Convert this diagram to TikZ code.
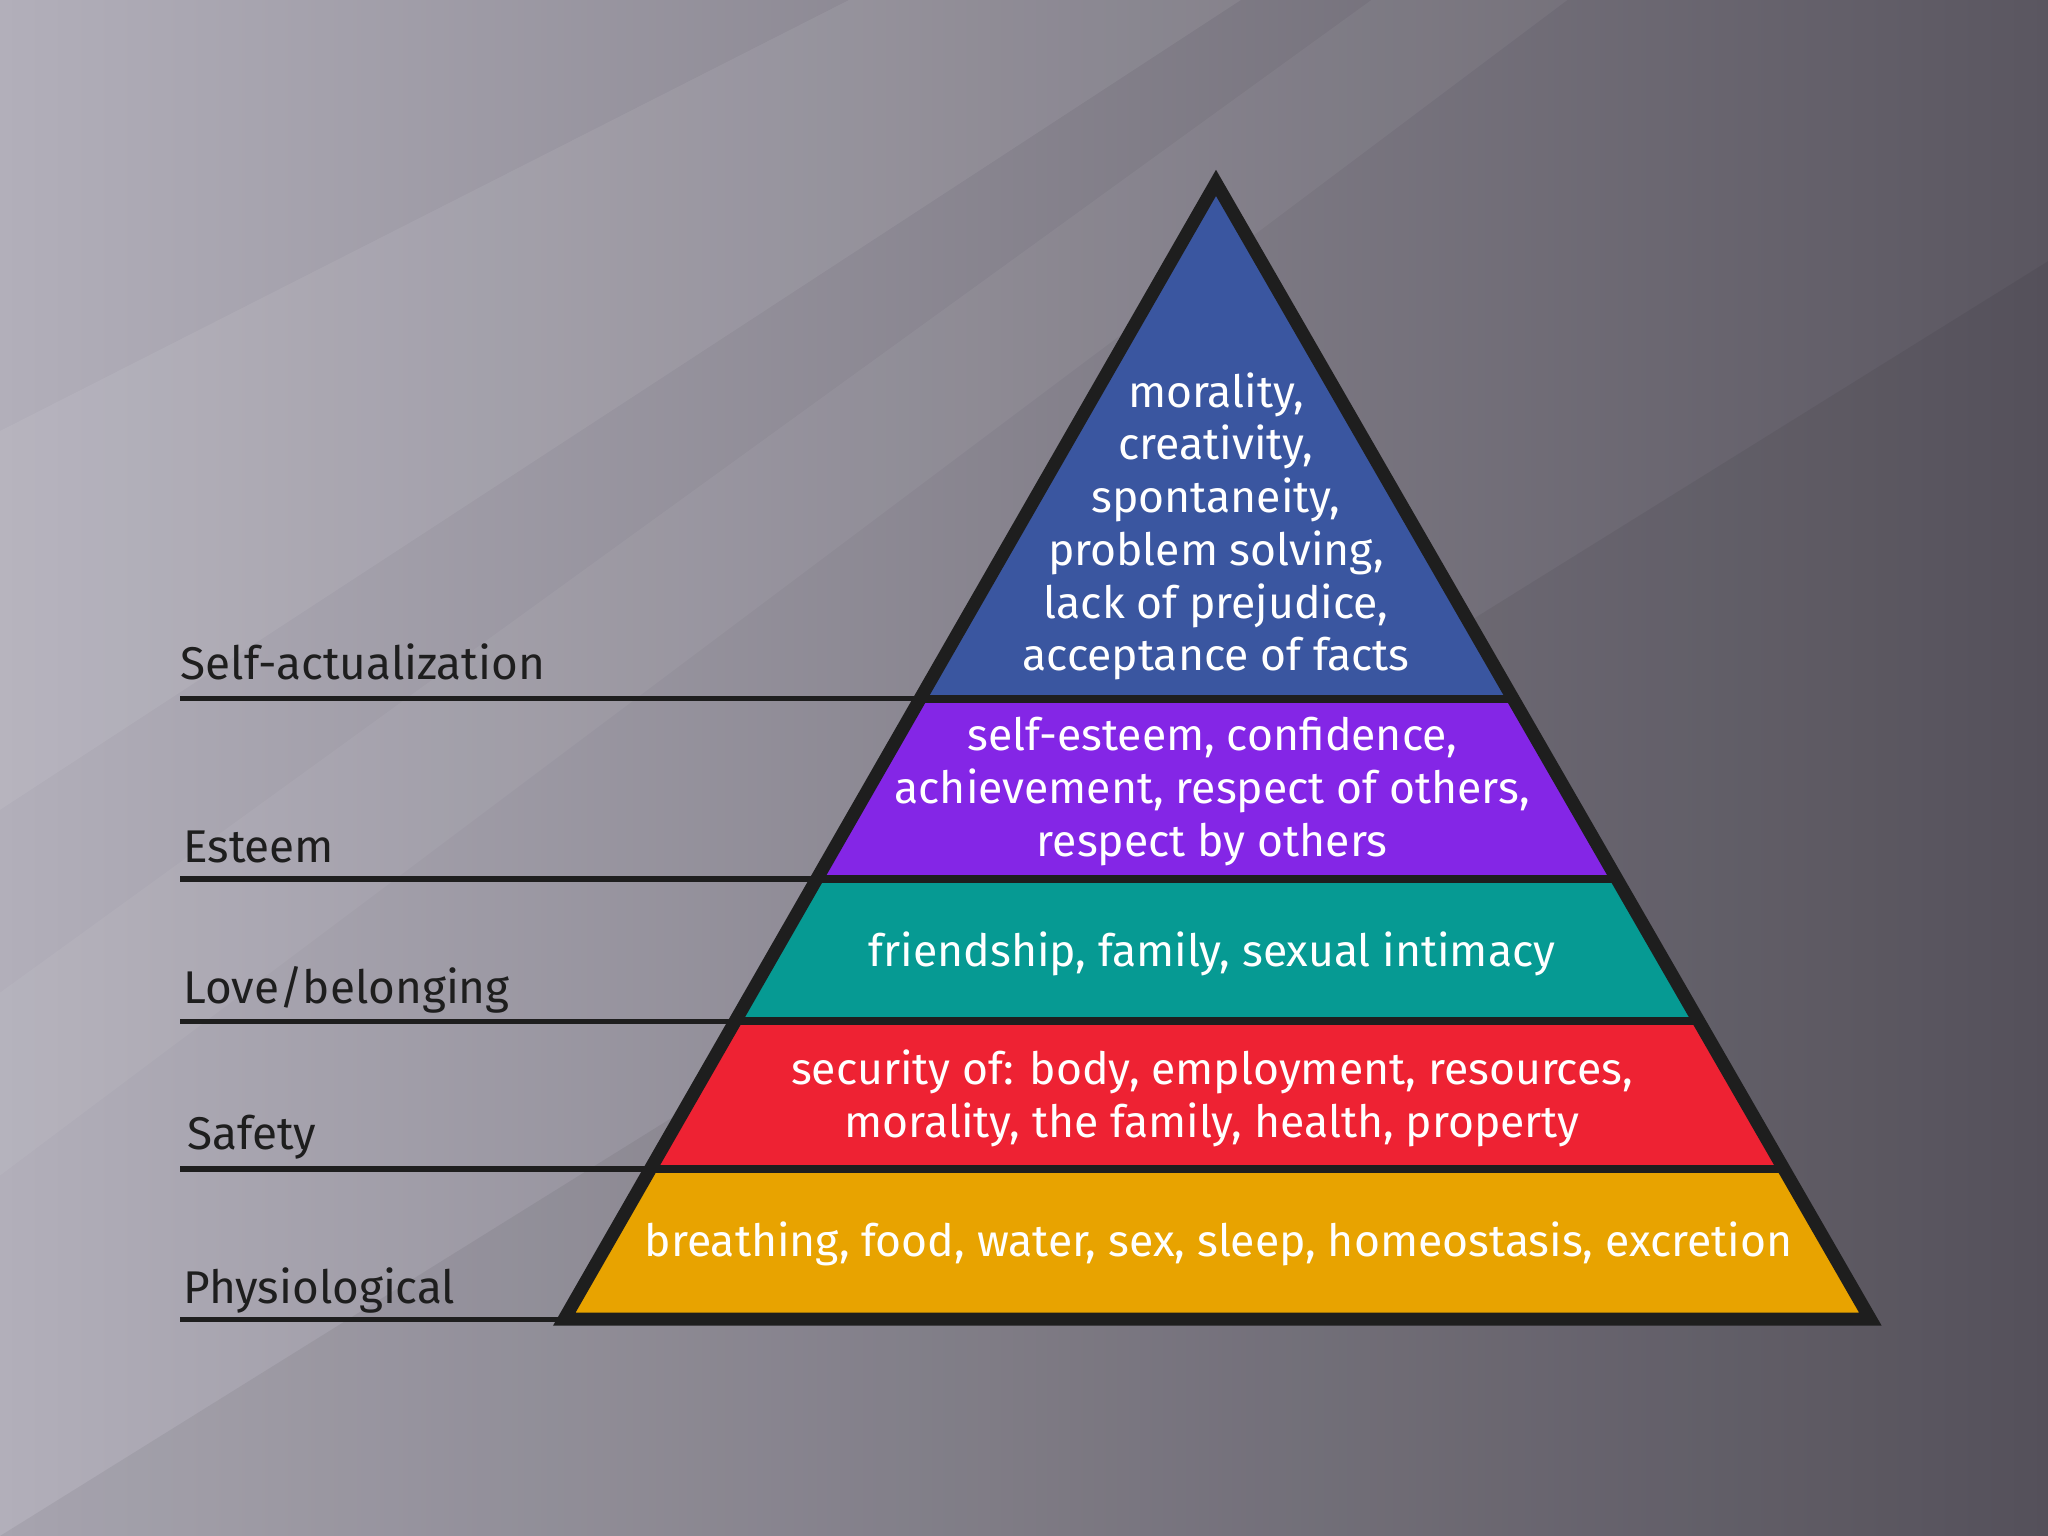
\documentclass[tikz,border=0pt]{standalone}
\usepackage{fontspec}
\setmainfont{Fira Sans}
\definecolor{bgdark}{HTML}{5A5660}
\definecolor{bglight}{HTML}{B2AFBA}
\definecolor{cblue}{HTML}{3A56A0}
\definecolor{cpurple}{HTML}{8426E6}
\definecolor{cteal}{HTML}{069A93}
\definecolor{cred}{HTML}{EE2233}
\definecolor{corange}{HTML}{E8A300}
\definecolor{ink}{HTML}{1E1E1E}
\begin{document}
\begin{tikzpicture}[x=0.02cm,y=-0.02cm,
  band/.style={draw=ink,line width=6*0.02cm,line join=round},
  txt/.style={text=white,font=\fontsize{19.4}{23}\selectfont,align=center,inner sep=0pt},
  lab/.style={text=ink,font=\fontsize{20}{22}\selectfont,anchor=base west,inner sep=0pt},
  lev/.style={draw=ink,line width=4*0.02cm}]
\useasboundingbox (0,0) rectangle (1568,1176);
\shade[shading angle=60,left color=bglight,right color=bgdark] (0,0) rectangle (1568,1176);
\fill[white,opacity=0.07] (0,330) -- (650,0) -- (950,0) -- (0,620) -- cycle;
\fill[white,opacity=0.05] (0,760) -- (1050,0) -- (1200,0) -- (0,900) -- cycle;
\fill[black,opacity=0.06] (0,1176) -- (1568,200) -- (1568,1176) -- cycle;
% pyramid points
\coordinate (A) at (931,140);
\coordinate (l1) at (704.4,535); \coordinate (r1) at (1158.5,535);
\coordinate (l2) at (625.3,673); \coordinate (r2) at (1237.9,673);
\coordinate (l3) at (562.8,782); \coordinate (r3) at (1300.7,782);
\coordinate (l4) at (498,895); \coordinate (r4) at (1365.8,895);
\coordinate (l5) at (432,1010); \coordinate (r5) at (1432,1010);
\fill[cblue] (A) -- (r1) -- (l1) -- cycle;
\fill[cpurple] (l1) -- (r1) -- (r2) -- (l2) -- cycle;
\fill[cteal] (l2) -- (r2) -- (r3) -- (l3) -- cycle;
\fill[cred] (l3) -- (r3) -- (r4) -- (l4) -- cycle;
\fill[corange] (l4) -- (r4) -- (r5) -- (l5) -- cycle;
\draw[band] (l1) -- (r1) (l2) -- (r2) (l3) -- (r3) (l4) -- (r4);
\draw[draw=ink,line width=10*0.02cm,line join=miter] (A) -- (r5) -- (l5) -- cycle;
% level lines
\coordinate (s1) at (138,535); \coordinate (s2) at (138,673);
\coordinate (s3) at (138,782); \coordinate (s4) at (138,895);
\coordinate (s5) at (138,1010);
\draw[lev] (s1) -- (l1); \draw[lev] (s2) -- (l2); \draw[lev] (s3) -- (l3);
\draw[lev] (s4) -- (l4); \draw[lev] (s5) -- (l5);
\node[lab] (L1) at (138,520) {Self-actualization};
\node[lab] (L2) at (140,660) {Esteem};
\node[lab] (L3) at (140,768) {Love/belonging};
\node[lab] (L4) at (143,880) {Safety};
\node[lab] (L5) at (140,998) {Physiological};
\node[txt] (T1) at (931,403) {morality,\\creativity,\\spontaneity,\\problem solving,\\lack of prejudice,\\acceptance of facts};
\node[txt] (T2) at (928,606) {self-esteem, confidence,\\achievement, respect of others,\\respect by others};
\node[txt] (T3) at (928,730) {friendship, family, sexual intimacy};
\node[txt] (T4) at (928,841) {security of: body, employment, resources,\\morality, the family, health, property};
\node[txt] (T5) at (933,952) {breathing, food, water, sex, sleep, homeostasis, excretion};
\end{tikzpicture}
\end{document}
